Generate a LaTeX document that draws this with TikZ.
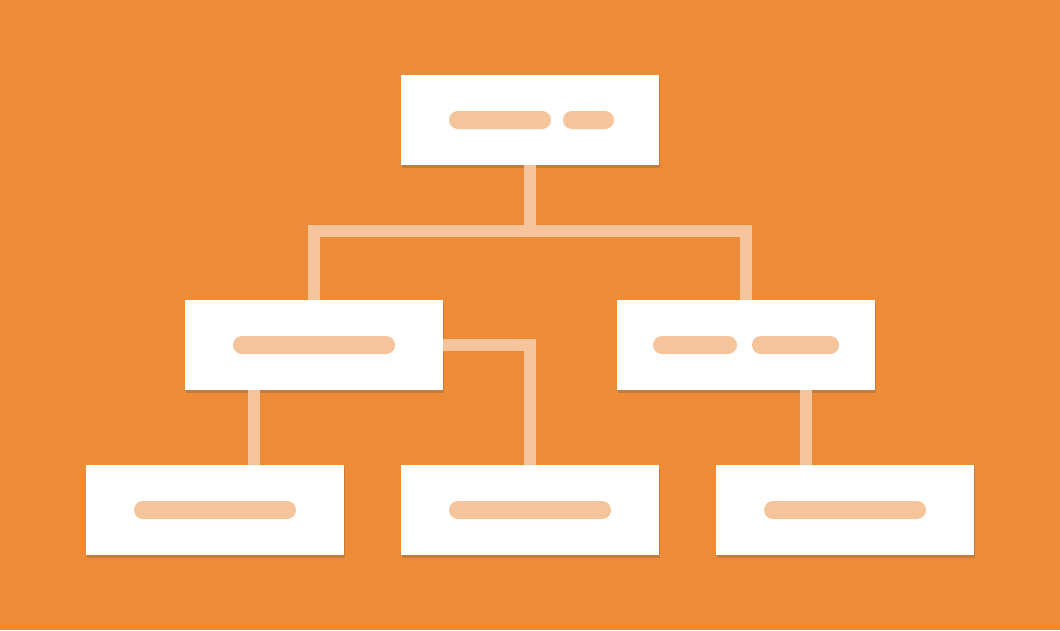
\documentclass[tikz,border=0pt]{standalone}
\usetikzlibrary{shadows}
\definecolor{bgorange}{HTML}{ED8B37}
\definecolor{lightorange}{HTML}{F5C49A}
\begin{document}
\begin{tikzpicture}[x=1pt,y=-1pt]
                    \tikzstyle{every node}+=[inner sep=0pt]
                    \tikzstyle{card}=[fill=white, minimum width=258pt, minimum height=90pt, drop shadow={shadow xshift=0.5pt, shadow yshift=-2.5pt, opacity=0.25, fill=black!70}]
                    \tikzstyle{pill}=[fill=lightorange, minimum height=18pt, rounded corners=9pt]
                    \tikzstyle{link}=[draw=lightorange, line width=12pt, line join=miter]
                    \fill [bgorange] (0,0) rectangle (1060,630);
                    % boxes
                    \node [card] (top) at (530,120) {};
                    \node [card] (ml) at (314,345) {};
                    \node [card] (mr) at (746,345) {};
                    \node [card] (bl) at (215,510) {};
                    \node [card] (bm) at (530,510) {};
                    \node [card] (br) at (845,510) {};
                    % placeholder bars
                    \node [pill, minimum width=102pt] (topa) at (500,120) {};
                    \node [pill, minimum width=51pt] (topb) at (588.5,120) {};
                    \node [pill, minimum width=162pt] (mla) at (314,345) {};
                    \node [pill, minimum width=84pt] (mra) at (695,345) {};
                    \node [pill, minimum width=87pt] (mrb) at (795.5,345) {};
                    \node [pill, minimum width=162pt] (bla) at (215,510) {};
                    \node [pill, minimum width=162pt] (bma) at (530,510) {};
                    \node [pill, minimum width=162pt] (bra) at (845,510) {};
                    % connectors
                    \coordinate (split) at (530,231);
                    \draw [link] (top.south) -- (split);
                    \draw [link] (ml.north) |- (split) -| (mr.north);
                    \draw [link] (ml.east) -| (bm.north);
                    \draw [link] ([xshift=-60pt]ml.south) -- ([xshift=39pt]bl.north);
                    \draw [link] ([xshift=60pt]mr.south) -- ([xshift=-39pt]br.north);
                \end{tikzpicture}
\end{document}
